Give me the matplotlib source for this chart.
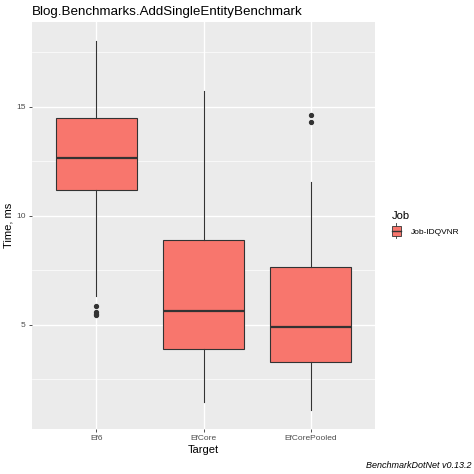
import matplotlib.pyplot as plt
from matplotlib.patches import Patch
from matplotlib.legend_handler import HandlerPatch
import matplotlib.lines as mlines

plt.rcParams['font.family'] = ['Liberation Sans', 'DejaVu Sans']

targets = ['Ef6', 'EfCore', 'EfCorePooled']
whisker_lo = [6.3, 1.48, 1.07]
q1 = [11.2, 3.88, 3.29]
median = [12.66, 5.63, 4.88]
q3 = [14.5, 8.9, 7.65]
whisker_hi = [18.04, 15.73, 11.53]
outliers = [[5.87, 5.6, 5.5, 5.46], [], [14.63, 14.3]]

fill = '#F8766D'
edge = '#333333'

fig = plt.figure(figsize=(4.74, 4.74), dpi=100)
ax = fig.add_axes([32 / 474, 45 / 474, 343 / 474, 407 / 474])
ax.set_facecolor('#EBEBEB')

stats = []
for i in range(len(targets)):
    stats.append(dict(label=targets[i], whislo=whisker_lo[i], q1=q1[i], med=median[i],
                      q3=q3[i], whishi=whisker_hi[i], fliers=outliers[i]))

ax.bxp(stats, positions=[1, 2, 3], widths=0.75, patch_artist=True, showcaps=False,
       boxprops=dict(facecolor=fill, edgecolor=edge, linewidth=0.8),
       medianprops=dict(color=edge, linewidth=1.6),
       whiskerprops=dict(color=edge, linewidth=0.8),
       flierprops=dict(marker='o', markerfacecolor=edge, markeredgecolor=edge, markersize=2.8),
       zorder=3)

ax.set_xlim(0.4, 3.6)
ax.set_ylim(0.22, 18.89)
ax.set_yticks([5, 10, 15])
ax.set_yticks([2.5, 7.5, 12.5, 17.5], minor=True)
ax.set_xticks([1, 2, 3])
ax.set_xticklabels(targets)
ax.grid(True, which='major', color='white', linewidth=1.0, zorder=0)
ax.grid(True, which='minor', axis='y', color='white', linewidth=0.5, zorder=0)
ax.set_axisbelow(True)
for s in ax.spines.values():
    s.set_visible(False)
ax.tick_params(which='major', length=2.5, width=0.6, color=edge, labelsize=6, labelcolor='#4D4D4D', pad=2)
ax.tick_params(which='minor', length=0)

ax.set_xlabel('Target', fontsize=8, labelpad=2)
ax.set_ylabel('Time, ms', fontsize=8, labelpad=2)
ax.set_title('Blog.Benchmarks.AddSingleEntityBenchmark', fontsize=9.6, loc='left', pad=5)


class BoxHandler(HandlerPatch):
    def create_artists(self, legend, orig_handle, xdescent, ydescent, width, height, fontsize, trans):
        cy = -ydescent + height / 2
        x0 = -xdescent
        r = plt.Rectangle((x0 + 0.05 * width, cy - 3.6), width * 0.9, 7.2,
                          facecolor=fill, edgecolor=edge, linewidth=0.6, transform=trans)
        v = mlines.Line2D([x0 + width / 2] * 2, [cy - 5.5, cy + 5.5],
                          color=edge, linewidth=0.6, transform=trans)
        m = mlines.Line2D([x0 + 0.05 * width, x0 + 0.95 * width], [cy, cy],
                          color=edge, linewidth=1.0, transform=trans)
        return [v, r, m]


leg = fig.legend([Patch()], ['Job-IDQVNR'], title='Job', loc='upper left',
                 bbox_to_anchor=(388 / 474, 1 - 208 / 474), frameon=False, fontsize=6,
                 title_fontsize=8, handler_map={Patch: BoxHandler()},
                 handlelength=1.2, handleheight=1.6, handletextpad=1.2, borderaxespad=0)
leg._legend_box.align = 'left'

fig.text(472 / 474, 4 / 474, 'BenchmarkDotNet v0.13.2', ha='right', va='bottom',
         fontsize=6.5, style='italic')

fig.savefig('out.png', dpi=100)
